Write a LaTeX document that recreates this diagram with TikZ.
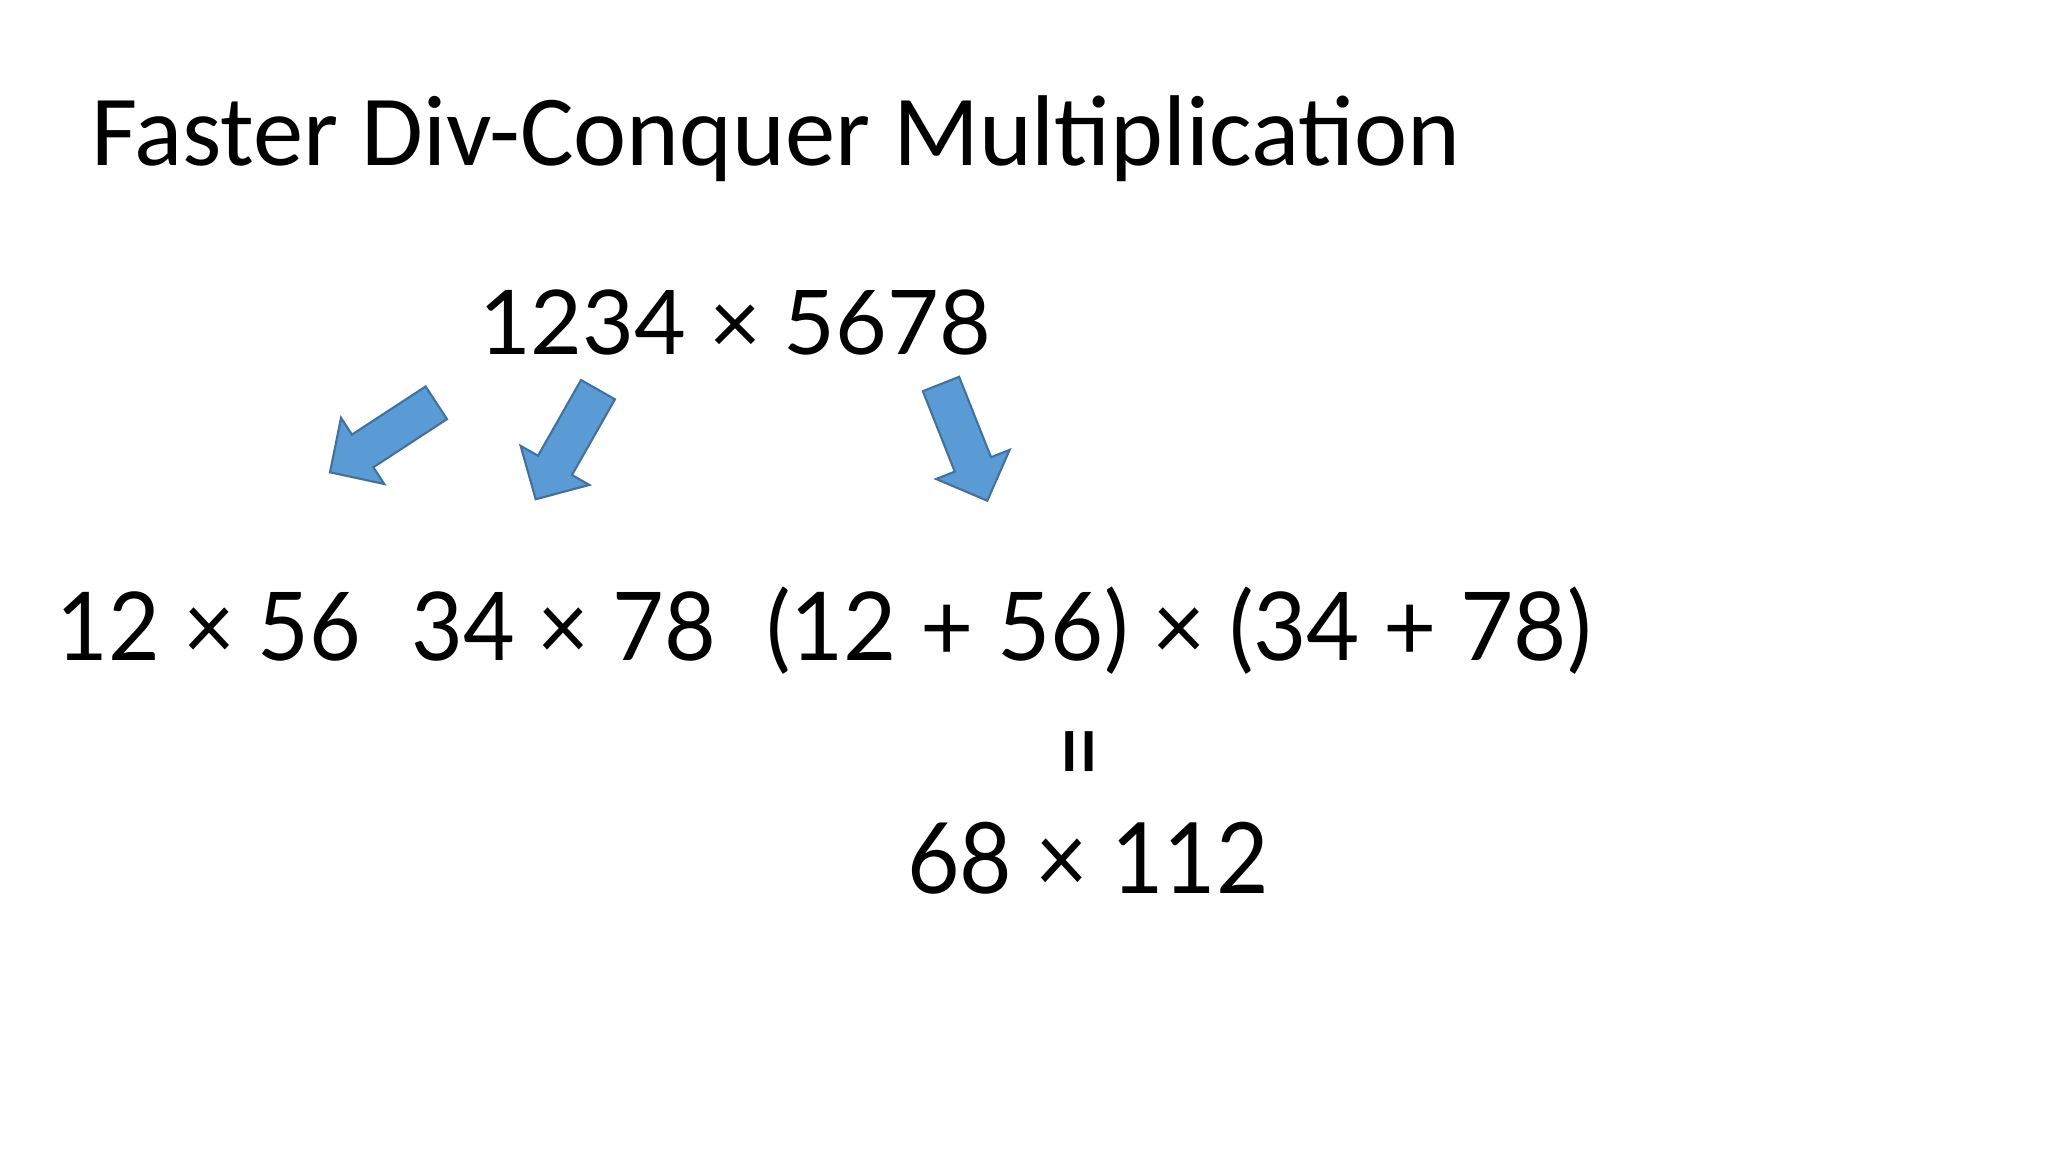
\documentclass[tikz,border=0pt]{standalone}
\usepackage{fontspec}
\newfontfamily\titlefont{Carlito}
\newfontfamily\numfont{Lato}
\newfontfamily\rowfont[FakeStretch=0.94]{Lato}
\newfontfamily\sumfont[FakeStretch=0.968]{Lato}
\newfontfamily\lowfont[FakeStretch=0.92]{Lato}
\newfontfamily\eqfont[FakeStretch=0.8]{Lato}
\usetikzlibrary{positioning,calc}
\definecolor{arrowblue}{HTML}{5B9BD5}
\definecolor{arrowline}{HTML}{41719C}

\begin{document}
\begin{tikzpicture}[
  x=0.01cm, y=-0.01cm,
  title/.style={
    inner sep=0pt,
    outer sep=0pt,
    anchor=base west,
    font=\titlefont\fontsize{28.6}{34}\selectfont
  },
  term/.style={
    inner sep=0pt,
    outer sep=0pt,
    font=\rowfont\fontsize{27}{32}\selectfont
  },
  blockarrow/.style={
    fill=arrowblue,
    draw=arrowline,
    line width=0.6pt,
    to path={
      let \p1=(\tikztostart), \p2=(\tikztotarget),
          \n1={atan2(\y2-\y1,\x2-\x1)} in
      ($(\p1)+(\n1+90:1.95mm)$)
      -- ($(\p2)+(\n1+180:3.9mm)+(\n1+90:1.95mm)$)
      -- ($(\p2)+(\n1+180:3.9mm)+(\n1+90:3.95mm)$)
      -- (\p2)
      -- ($(\p2)+(\n1+180:3.9mm)+(\n1-90:3.95mm)$)
      -- ($(\p2)+(\n1+180:3.9mm)+(\n1-90:1.95mm)$)
      -- ($(\p1)+(\n1-90:1.95mm)$)
      -- cycle}
  }]
  \useasboundingbox[fill=white] (0,0) rectangle (2048,1152);

  \node[title] (heading) at (91,166) {Faster Div-Conquer Multiplication};

  % the product to split
  \node[term, anchor=base west, font=\numfont\fontsize{25.4}{30}\selectfont] (whole) at (479,355) {1234 × 5678};

  % the three smaller products
  \node[term, anchor=base west] (left) at (57,660) {12 × 56};
  \node[term, base right=50 of left] (mid) {34 × 78};
  \node[term, base right=50 of mid, font=\sumfont\fontsize{27}{32}\selectfont] (sum) {(12 + 56) × (34 + 78)};

  \node[term, rotate=90, font=\eqfont\fontsize{33}{38}\selectfont] (eq) at (1092,752) {=};
  \node[term, anchor=base west, font=\lowfont\fontsize{28}{33}\selectfont] (prod) at (907,893) {68 × 112};

  % arrows
  \coordinate (tailA) at (436.3,402.8);
  \coordinate (tipA) at (330,472.3);
  \coordinate (tailB) at (598,389.7);
  \coordinate (tipB) at (535.7,499.3);
  \coordinate (tailC) at (941,384);
  \coordinate (tipC) at (987.3,500.7);
  \draw[blockarrow] (tailA) to (tipA);
  \draw[blockarrow] (tailB) to (tipB);
  \draw[blockarrow] (tailC) to (tipC);
\end{tikzpicture}
\end{document}
